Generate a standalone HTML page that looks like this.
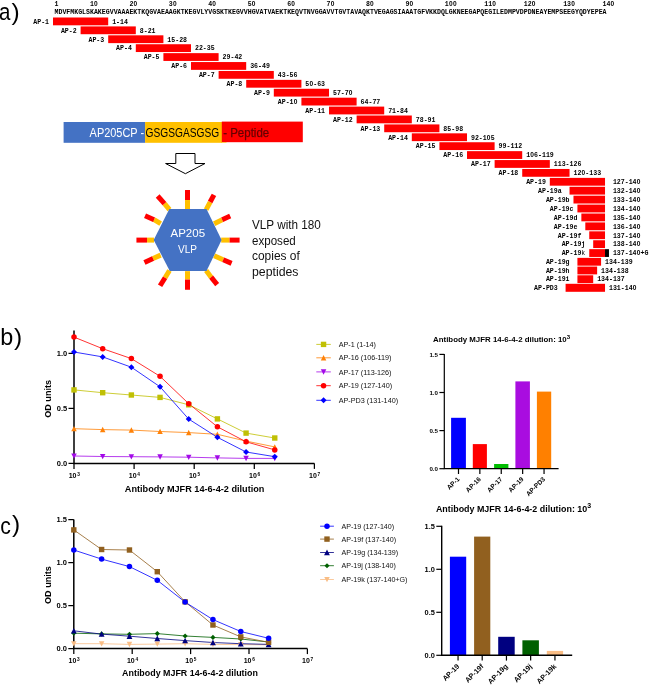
<!DOCTYPE html>
<html lang="en">
<head>
<meta charset="utf-8">
<title>AP205 VLP peptide mapping</title>
<style>
html,body{margin:0;padding:0;background:#fff;}
body{width:649px;height:685px;overflow:hidden;}
svg{display:block;}
text{white-space:pre;}
</style>
</head>
<body>
<svg width="649" height="685" viewBox="0 0 649 685">
<rect width="649" height="685" fill="#fff"/>
<g id="panel-a">
<text x="54.5" y="5.7" font-family='"Liberation Mono", monospace' font-size="6.57" font-weight="bold" fill="#000">1</text>
<text y="5.7" font-family='"Liberation Mono", monospace' font-size="6.57" font-weight="bold" fill="#000"><tspan x="89.99">1</tspan><tspan x="94.07" font-family='"Liberation Sans", sans-serif'>0</tspan></text>
<text y="5.7" font-family='"Liberation Mono", monospace' font-size="6.57" font-weight="bold" fill="#000"><tspan x="129.42">2</tspan><tspan x="133.5" font-family='"Liberation Sans", sans-serif'>0</tspan></text>
<text y="5.7" font-family='"Liberation Mono", monospace' font-size="6.57" font-weight="bold" fill="#000"><tspan x="168.85">3</tspan><tspan x="172.93" font-family='"Liberation Sans", sans-serif'>0</tspan></text>
<text y="5.7" font-family='"Liberation Mono", monospace' font-size="6.57" font-weight="bold" fill="#000"><tspan x="208.28">4</tspan><tspan x="212.36" font-family='"Liberation Sans", sans-serif'>0</tspan></text>
<text y="5.7" font-family='"Liberation Mono", monospace' font-size="6.57" font-weight="bold" fill="#000"><tspan x="247.71">5</tspan><tspan x="251.79" font-family='"Liberation Sans", sans-serif'>0</tspan></text>
<text y="5.7" font-family='"Liberation Mono", monospace' font-size="6.57" font-weight="bold" fill="#000"><tspan x="287.14">6</tspan><tspan x="291.22" font-family='"Liberation Sans", sans-serif'>0</tspan></text>
<text y="5.7" font-family='"Liberation Mono", monospace' font-size="6.57" font-weight="bold" fill="#000"><tspan x="326.57">7</tspan><tspan x="330.65" font-family='"Liberation Sans", sans-serif'>0</tspan></text>
<text y="5.7" font-family='"Liberation Mono", monospace' font-size="6.57" font-weight="bold" fill="#000"><tspan x="366">8</tspan><tspan x="370.08" font-family='"Liberation Sans", sans-serif'>0</tspan></text>
<text y="5.7" font-family='"Liberation Mono", monospace' font-size="6.57" font-weight="bold" fill="#000"><tspan x="405.43">9</tspan><tspan x="409.51" font-family='"Liberation Sans", sans-serif'>0</tspan></text>
<text y="5.7" font-family='"Liberation Mono", monospace' font-size="6.57" font-weight="bold" fill="#000"><tspan x="444.86">1</tspan><tspan x="448.94 452.89" font-family='"Liberation Sans", sans-serif'>00</tspan></text>
<text y="5.7" font-family='"Liberation Mono", monospace' font-size="6.57" font-weight="bold" fill="#000"><tspan x="484.29 488.23">11</tspan><tspan x="492.32" font-family='"Liberation Sans", sans-serif'>0</tspan></text>
<text y="5.7" font-family='"Liberation Mono", monospace' font-size="6.57" font-weight="bold" fill="#000"><tspan x="523.72 527.66">12</tspan><tspan x="531.75" font-family='"Liberation Sans", sans-serif'>0</tspan></text>
<text y="5.7" font-family='"Liberation Mono", monospace' font-size="6.57" font-weight="bold" fill="#000"><tspan x="563.15 567.09">13</tspan><tspan x="571.18" font-family='"Liberation Sans", sans-serif'>0</tspan></text>
<text y="5.7" font-family='"Liberation Mono", monospace' font-size="6.57" font-weight="bold" fill="#000"><tspan x="602.58 606.52">14</tspan><tspan x="610.61" font-family='"Liberation Sans", sans-serif'>0</tspan></text>
<text x="54.5 58.44 62.39 66.33 70.27 74.22 78.16 82.1 86.04 89.99 93.93 97.87 101.82 105.76 109.7 113.65 117.59 121.53 125.47 129.42 133.36 137.3 141.25 145.19 149.13 153.07 157.02 160.96 164.9 168.85 172.79 176.73 180.68 184.62 188.56 192.5 196.45 200.39 204.33 208.28 212.22 216.16 220.11 224.05 227.99 231.94 235.88 239.82 243.76 247.71 251.65 255.59 259.54 263.48 267.42 271.37 275.31 279.25 283.19 287.14 291.08 295.02 298.97 302.91 306.85 310.8 314.74 318.68 322.62 326.57 330.51 334.45 338.4 342.34 346.28 350.23 354.17 358.11 362.05 366 369.94 373.88 377.83 381.77 385.71 389.66 393.6 397.54 401.48 405.43 409.37 413.31 417.26 421.2 425.14 429.08 433.03 436.97 440.91 444.86 448.8 452.74 456.69 460.63 464.57 468.51 472.46 476.4 480.34 484.29 488.23 492.17 496.12 500.06 504 507.94 511.89 515.83 519.77 523.72 527.66 531.6 535.55 539.49 543.43 547.38 551.32 555.26 559.2 563.15 567.09 571.03 574.98 578.92 582.86 586.81 590.75 594.69 598.63 602.58" y="13.8" font-family='"Liberation Mono", monospace' font-size="6.57" font-weight="bold" fill="#000">MDVFMKGLSKAKEGVVAAAEKTKQGVAEAAGKTKEGVLYVGSKTKEGVVHGVATVAEKTKEQVTNVGGAVVTGVTAVAQKTVEGAGSIAAATGFVKKDQLGKNEEGAPQEGILEDMPVDPDNEAYEMPSEEGYQDYEPEA</text>
<rect x="53" y="17.5" width="55.2" height="7.8" fill="#ff0000"/>
<text x="33.28 37.23 41.17 45.11" y="23.7" font-family='"Liberation Mono", monospace' font-size="6.57" font-weight="bold" fill="#000">AP-1</text>
<text x="112.15 116.09 120.03 123.97" y="23.7" font-family='"Liberation Mono", monospace' font-size="6.57" font-weight="bold" fill="#000">1-14</text>
<rect x="80.6" y="26.41" width="55.2" height="7.8" fill="#ff0000"/>
<text x="60.89 64.83 68.77 72.72" y="32.61" font-family='"Liberation Mono", monospace' font-size="6.57" font-weight="bold" fill="#000">AP-2</text>
<text x="139.75 143.69 147.63 151.57" y="32.61" font-family='"Liberation Mono", monospace' font-size="6.57" font-weight="bold" fill="#000">8-21</text>
<rect x="108.2" y="35.32" width="55.2" height="7.8" fill="#ff0000"/>
<text x="88.49 92.43 96.37 100.32" y="41.52" font-family='"Liberation Mono", monospace' font-size="6.57" font-weight="bold" fill="#000">AP-3</text>
<text x="167.35 171.29 175.23 179.18 183.12" y="41.52" font-family='"Liberation Mono", monospace' font-size="6.57" font-weight="bold" fill="#000">15-28</text>
<rect x="135.8" y="44.23" width="55.2" height="7.8" fill="#ff0000"/>
<text x="116.09 120.03 123.97 127.92" y="50.43" font-family='"Liberation Mono", monospace' font-size="6.57" font-weight="bold" fill="#000">AP-4</text>
<text x="194.95 198.89 202.83 206.78 210.72" y="50.43" font-family='"Liberation Mono", monospace' font-size="6.57" font-weight="bold" fill="#000">22-35</text>
<rect x="163.4" y="53.14" width="55.2" height="7.8" fill="#ff0000"/>
<text x="143.69 147.63 151.58 155.52" y="59.34" font-family='"Liberation Mono", monospace' font-size="6.57" font-weight="bold" fill="#000">AP-5</text>
<text x="222.55 226.49 230.44 234.38 238.32" y="59.34" font-family='"Liberation Mono", monospace' font-size="6.57" font-weight="bold" fill="#000">29-42</text>
<rect x="191" y="62.05" width="55.2" height="7.8" fill="#ff0000"/>
<text x="171.29 175.23 179.18 183.12" y="68.25" font-family='"Liberation Mono", monospace' font-size="6.57" font-weight="bold" fill="#000">AP-6</text>
<text x="250.15 254.09 258.04 261.98 265.92" y="68.25" font-family='"Liberation Mono", monospace' font-size="6.57" font-weight="bold" fill="#000">36-49</text>
<rect x="218.61" y="70.96" width="55.2" height="7.8" fill="#ff0000"/>
<text x="198.89 202.83 206.78 210.72" y="77.16" font-family='"Liberation Mono", monospace' font-size="6.57" font-weight="bold" fill="#000">AP-7</text>
<text x="277.75 281.69 285.64 289.58 293.52" y="77.16" font-family='"Liberation Mono", monospace' font-size="6.57" font-weight="bold" fill="#000">43-56</text>
<rect x="246.21" y="79.87" width="55.2" height="7.8" fill="#ff0000"/>
<text x="226.49 230.44 234.38 238.32" y="86.07" font-family='"Liberation Mono", monospace' font-size="6.57" font-weight="bold" fill="#000">AP-8</text>
<text y="86.07" font-family='"Liberation Mono", monospace' font-size="6.57" font-weight="bold" fill="#000"><tspan x="305.35">5</tspan><tspan x="309.44" font-family='"Liberation Sans", sans-serif'>0</tspan><tspan x="313.24 317.18 321.12">-63</tspan></text>
<rect x="273.81" y="88.78" width="55.2" height="7.8" fill="#ff0000"/>
<text x="254.09 258.04 261.98 265.92" y="94.98" font-family='"Liberation Mono", monospace' font-size="6.57" font-weight="bold" fill="#000">AP-9</text>
<text y="94.98" font-family='"Liberation Mono", monospace' font-size="6.57" font-weight="bold" fill="#000"><tspan x="332.95 336.9 340.84 344.78">57-7</tspan><tspan x="348.87" font-family='"Liberation Sans", sans-serif'>0</tspan></text>
<rect x="301.41" y="97.69" width="55.2" height="7.8" fill="#ff0000"/>
<text y="103.89" font-family='"Liberation Mono", monospace' font-size="6.57" font-weight="bold" fill="#000"><tspan x="277.75 281.69 285.64 289.58">AP-1</tspan><tspan x="293.67" font-family='"Liberation Sans", sans-serif'>0</tspan></text>
<text x="360.55 364.5 368.44 372.38 376.33" y="103.89" font-family='"Liberation Mono", monospace' font-size="6.57" font-weight="bold" fill="#000">64-77</text>
<rect x="329.01" y="106.6" width="55.2" height="7.8" fill="#ff0000"/>
<text x="305.35 309.29 313.24 317.18 321.12" y="112.8" font-family='"Liberation Mono", monospace' font-size="6.57" font-weight="bold" fill="#000">AP-11</text>
<text x="388.16 392.1 396.04 399.98 403.93" y="112.8" font-family='"Liberation Mono", monospace' font-size="6.57" font-weight="bold" fill="#000">71-84</text>
<rect x="356.61" y="115.51" width="55.2" height="7.8" fill="#ff0000"/>
<text x="332.95 336.9 340.84 344.78 348.73" y="121.71" font-family='"Liberation Mono", monospace' font-size="6.57" font-weight="bold" fill="#000">AP-12</text>
<text x="415.76 419.7 423.64 427.59 431.53" y="121.71" font-family='"Liberation Mono", monospace' font-size="6.57" font-weight="bold" fill="#000">78-91</text>
<rect x="384.21" y="124.42" width="55.2" height="7.8" fill="#ff0000"/>
<text x="360.55 364.5 368.44 372.38 376.33" y="130.62" font-family='"Liberation Mono", monospace' font-size="6.57" font-weight="bold" fill="#000">AP-13</text>
<text x="443.36 447.3 451.24 455.19 459.13" y="130.62" font-family='"Liberation Mono", monospace' font-size="6.57" font-weight="bold" fill="#000">85-98</text>
<rect x="411.81" y="133.33" width="55.2" height="7.8" fill="#ff0000"/>
<text x="388.16 392.1 396.04 399.98 403.93" y="139.53" font-family='"Liberation Mono", monospace' font-size="6.57" font-weight="bold" fill="#000">AP-14</text>
<text y="139.53" font-family='"Liberation Mono", monospace' font-size="6.57" font-weight="bold" fill="#000"><tspan x="470.96 474.9 478.84 482.79">92-1</tspan><tspan x="486.87" font-family='"Liberation Sans", sans-serif'>0</tspan><tspan x="490.67">5</tspan></text>
<rect x="439.41" y="142.24" width="55.2" height="7.8" fill="#ff0000"/>
<text x="415.76 419.7 423.64 427.59 431.53" y="148.44" font-family='"Liberation Mono", monospace' font-size="6.57" font-weight="bold" fill="#000">AP-15</text>
<text x="498.56 502.5 506.45 510.39 514.33 518.27" y="148.44" font-family='"Liberation Mono", monospace' font-size="6.57" font-weight="bold" fill="#000">99-112</text>
<rect x="467.01" y="151.15" width="55.2" height="7.8" fill="#ff0000"/>
<text x="443.36 447.3 451.24 455.19 459.13" y="157.35" font-family='"Liberation Mono", monospace' font-size="6.57" font-weight="bold" fill="#000">AP-16</text>
<text y="157.35" font-family='"Liberation Mono", monospace' font-size="6.57" font-weight="bold" fill="#000"><tspan x="526.16">1</tspan><tspan x="530.25" font-family='"Liberation Sans", sans-serif'>0</tspan><tspan x="534.05 537.99 541.93 545.88 549.82">6-119</tspan></text>
<rect x="494.62" y="160.06" width="55.2" height="7.8" fill="#ff0000"/>
<text x="470.96 474.9 478.84 482.79 486.73" y="166.26" font-family='"Liberation Mono", monospace' font-size="6.57" font-weight="bold" fill="#000">AP-17</text>
<text x="553.76 557.7 561.65 565.59 569.53 573.48 577.42" y="166.26" font-family='"Liberation Mono", monospace' font-size="6.57" font-weight="bold" fill="#000">113-126</text>
<rect x="522.22" y="168.97" width="47.32" height="7.8" fill="#ff0000"/>
<text x="498.56 502.5 506.45 510.39 514.33" y="175.17" font-family='"Liberation Mono", monospace' font-size="6.57" font-weight="bold" fill="#000">AP-18</text>
<text y="175.17" font-family='"Liberation Mono", monospace' font-size="6.57" font-weight="bold" fill="#000"><tspan x="573.48 577.42">12</tspan><tspan x="581.51" font-family='"Liberation Sans", sans-serif'>0</tspan><tspan x="585.3 589.25 593.19 597.13">-133</tspan></text>
<rect x="549.82" y="177.88" width="55.2" height="7.8" fill="#ff0000"/>
<text x="526.16 530.1 534.05 537.99 541.93" y="184.08" font-family='"Liberation Mono", monospace' font-size="6.57" font-weight="bold" fill="#000">AP-19</text>
<text y="184.08" font-family='"Liberation Mono", monospace' font-size="6.57" font-weight="bold" fill="#000"><tspan x="612.91 616.85 620.79 624.74 628.68 632.62">127-14</tspan><tspan x="636.71" font-family='"Liberation Sans", sans-serif'>0</tspan></text>
<rect x="569.53" y="186.79" width="35.49" height="7.8" fill="#ff0000"/>
<text x="537.99 541.93 545.88 549.82 553.76 557.7" y="192.99" font-family='"Liberation Mono", monospace' font-size="6.57" font-weight="bold" fill="#000">AP-19a</text>
<text y="192.99" font-family='"Liberation Mono", monospace' font-size="6.57" font-weight="bold" fill="#000"><tspan x="612.91 616.85 620.79 624.74 628.68 632.62">132-14</tspan><tspan x="636.71" font-family='"Liberation Sans", sans-serif'>0</tspan></text>
<rect x="573.48" y="195.7" width="31.54" height="7.8" fill="#ff0000"/>
<text x="545.88 549.82 553.76 557.7 561.65 565.59" y="201.9" font-family='"Liberation Mono", monospace' font-size="6.57" font-weight="bold" fill="#000">AP-19b</text>
<text y="201.9" font-family='"Liberation Mono", monospace' font-size="6.57" font-weight="bold" fill="#000"><tspan x="612.91 616.85 620.79 624.74 628.68 632.62">133-14</tspan><tspan x="636.71" font-family='"Liberation Sans", sans-serif'>0</tspan></text>
<rect x="577.42" y="204.61" width="27.6" height="7.8" fill="#ff0000"/>
<text x="549.82 553.76 557.7 561.65 565.59 569.53" y="210.81" font-family='"Liberation Mono", monospace' font-size="6.57" font-weight="bold" fill="#000">AP-19c</text>
<text y="210.81" font-family='"Liberation Mono", monospace' font-size="6.57" font-weight="bold" fill="#000"><tspan x="612.91 616.85 620.79 624.74 628.68 632.62">134-14</tspan><tspan x="636.71" font-family='"Liberation Sans", sans-serif'>0</tspan></text>
<rect x="581.36" y="213.52" width="23.66" height="7.8" fill="#ff0000"/>
<text x="553.76 557.7 561.65 565.59 569.53 573.48" y="219.72" font-family='"Liberation Mono", monospace' font-size="6.57" font-weight="bold" fill="#000">AP-19d</text>
<text y="219.72" font-family='"Liberation Mono", monospace' font-size="6.57" font-weight="bold" fill="#000"><tspan x="612.91 616.85 620.79 624.74 628.68 632.62">135-14</tspan><tspan x="636.71" font-family='"Liberation Sans", sans-serif'>0</tspan></text>
<rect x="585.31" y="222.43" width="19.71" height="7.8" fill="#ff0000"/>
<text x="553.76 557.7 561.65 565.59 569.53 573.48" y="228.63" font-family='"Liberation Mono", monospace' font-size="6.57" font-weight="bold" fill="#000">AP-19e</text>
<text y="228.63" font-family='"Liberation Mono", monospace' font-size="6.57" font-weight="bold" fill="#000"><tspan x="612.91 616.85 620.79 624.74 628.68 632.62">136-14</tspan><tspan x="636.71" font-family='"Liberation Sans", sans-serif'>0</tspan></text>
<rect x="589.25" y="231.34" width="15.77" height="7.8" fill="#ff0000"/>
<text x="557.7 561.65 565.59 569.53 573.48 577.42" y="237.54" font-family='"Liberation Mono", monospace' font-size="6.57" font-weight="bold" fill="#000">AP-19f</text>
<text y="237.54" font-family='"Liberation Mono", monospace' font-size="6.57" font-weight="bold" fill="#000"><tspan x="612.91 616.85 620.79 624.74 628.68 632.62">137-14</tspan><tspan x="636.71" font-family='"Liberation Sans", sans-serif'>0</tspan></text>
<rect x="593.19" y="240.25" width="11.83" height="7.8" fill="#ff0000"/>
<text x="561.65 565.59 569.53 573.48 577.42 581.36" y="246.45" font-family='"Liberation Mono", monospace' font-size="6.57" font-weight="bold" fill="#000">AP-19j</text>
<text y="246.45" font-family='"Liberation Mono", monospace' font-size="6.57" font-weight="bold" fill="#000"><tspan x="612.91 616.85 620.79 624.74 628.68 632.62">138-14</tspan><tspan x="636.71" font-family='"Liberation Sans", sans-serif'>0</tspan></text>
<rect x="589.25" y="249.16" width="15.77" height="7.8" fill="#ff0000"/>
<rect x="605.02" y="249.16" width="3.94" height="7.8" fill="#000"/>
<text y="255.36" font-family='"Liberation Mono", monospace' font-size="6.57" font-weight="bold" fill="#000"><tspan x="561.65 565.59 569.53 573.48 577.42">AP-19</tspan><tspan x="581.36" font-weight="normal">k</tspan></text>
<text y="255.36" font-family='"Liberation Mono", monospace' font-size="6.57" font-weight="bold" fill="#000"><tspan x="612.91 616.85 620.79 624.74 628.68 632.62">137-14</tspan><tspan x="636.71" font-family='"Liberation Sans", sans-serif'>0</tspan><tspan x="640.51 644.45">+G</tspan></text>
<rect x="577.42" y="257.87" width="23.66" height="7.8" fill="#ff0000"/>
<text x="545.88 549.82 553.76 557.7 561.65 565.59" y="264.07" font-family='"Liberation Mono", monospace' font-size="6.57" font-weight="bold" fill="#000">AP-19g</text>
<text x="605.02 608.96 612.91 616.85 620.79 624.74 628.68" y="264.07" font-family='"Liberation Mono", monospace' font-size="6.57" font-weight="bold" fill="#000">134-139</text>
<rect x="577.42" y="266.58" width="19.71" height="7.8" fill="#ff0000"/>
<text x="545.88 549.82 553.76 557.7 561.65 565.59" y="272.78" font-family='"Liberation Mono", monospace' font-size="6.57" font-weight="bold" fill="#000">AP-19h</text>
<text x="601.08 605.02 608.96 612.91 616.85 620.79 624.74" y="272.78" font-family='"Liberation Mono", monospace' font-size="6.57" font-weight="bold" fill="#000">134-138</text>
<rect x="577.42" y="275.29" width="15.77" height="7.8" fill="#ff0000"/>
<text x="545.88 549.82 553.76 557.7 561.65 565.59" y="281.49" font-family='"Liberation Mono", monospace' font-size="6.57" font-weight="bold" fill="#000">AP-19i</text>
<text x="597.13 601.08 605.02 608.96 612.91 616.85 620.79" y="281.49" font-family='"Liberation Mono", monospace' font-size="6.57" font-weight="bold" fill="#000">134-137</text>
<rect x="565.59" y="283.8" width="39.43" height="8" fill="#ff0000"/>
<text x="534.05 537.99 541.93 545.88 549.82 553.76" y="290" font-family='"Liberation Mono", monospace' font-size="6.57" font-weight="bold" fill="#000">AP-PD3</text>
<text y="290" font-family='"Liberation Mono", monospace' font-size="6.57" font-weight="bold" fill="#000"><tspan x="608.96 612.91 616.85 620.79 624.74 628.68">131-14</tspan><tspan x="632.77" font-family='"Liberation Sans", sans-serif'>0</tspan></text>
</g>
<g id="construct">
<rect x="63.6" y="122" width="81.6" height="20.8" fill="#4472c4"/>
<rect x="145.1" y="122" width="77" height="20.8" fill="#ffc000"/>
<rect x="221.8" y="121.6" width="81" height="20.6" fill="#ff0000"/>
<rect x="221" y="142.2" width="5.5" height="0.6" fill="#ffc000"/>
<text x="89.6" y="136.7" font-family='"Liberation Sans", sans-serif' font-size="12" fill="#fff" textLength="54.5" lengthAdjust="spacingAndGlyphs">AP205CP -</text>
<text x="145.6" y="136.7" font-family='"Liberation Sans", sans-serif' font-size="12" fill="#000" textLength="73.5" lengthAdjust="spacingAndGlyphs">GSGSGASGSG</text>
<text x="223.2" y="136.7" font-family='"Liberation Sans", sans-serif' font-size="12" fill="#650000" stroke="#650000" stroke-width="0.25" textLength="46" lengthAdjust="spacingAndGlyphs">- Peptide</text>
<path d="M175.8 153.5 H195 V163.5 H205 L185.4 173.7 L165.6 163.5 H175.8 Z" fill="#fff" stroke="#000" stroke-width="1"/>
<line x1="187.51" y1="209.05" x2="187.51" y2="200.03" stroke="#ffc000" stroke-width="5"/>
<line x1="187.51" y1="200.03" x2="187.51" y2="190.02" stroke="#ff0000" stroke-width="5"/>
<line x1="206.14" y1="209.65" x2="210.14" y2="202.04" stroke="#ffc000" stroke-width="5"/>
<line x1="210.14" y1="202.04" x2="213.95" y2="194.82" stroke="#ff0000" stroke-width="5"/>
<line x1="214.15" y1="223.67" x2="222.16" y2="219.66" stroke="#ffc000" stroke-width="5"/>
<line x1="222.16" y1="219.66" x2="230.18" y2="216.06" stroke="#ff0000" stroke-width="5"/>
<line x1="221.16" y1="240.1" x2="229.58" y2="240.1" stroke="#ffc000" stroke-width="5"/>
<line x1="229.58" y1="240.1" x2="239.59" y2="240.1" stroke="#ff0000" stroke-width="5"/>
<line x1="214.15" y1="255.72" x2="223.17" y2="259.73" stroke="#ffc000" stroke-width="5"/>
<line x1="223.17" y1="259.73" x2="231.58" y2="263.33" stroke="#ff0000" stroke-width="5"/>
<line x1="206.14" y1="270.54" x2="211.15" y2="277.16" stroke="#ffc000" stroke-width="5"/>
<line x1="211.15" y1="277.16" x2="217.16" y2="284.57" stroke="#ff0000" stroke-width="5"/>
<line x1="187.51" y1="271.15" x2="187.51" y2="279.56" stroke="#ffc000" stroke-width="5"/>
<line x1="187.51" y1="279.56" x2="187.51" y2="289.78" stroke="#ff0000" stroke-width="5"/>
<line x1="169.48" y1="270.54" x2="165.07" y2="277.76" stroke="#ffc000" stroke-width="5"/>
<line x1="165.07" y1="277.76" x2="160.06" y2="285.77" stroke="#ff0000" stroke-width="5"/>
<line x1="160.67" y1="255.12" x2="153.05" y2="258.53" stroke="#ffc000" stroke-width="5"/>
<line x1="153.05" y1="258.53" x2="144.44" y2="262.53" stroke="#ff0000" stroke-width="5"/>
<line x1="154.05" y1="240.1" x2="147.04" y2="240.1" stroke="#ffc000" stroke-width="5"/>
<line x1="147.04" y1="240.1" x2="136.43" y2="240.1" stroke="#ff0000" stroke-width="5"/>
<line x1="160.67" y1="223.67" x2="154.05" y2="219.66" stroke="#ffc000" stroke-width="5"/>
<line x1="154.05" y1="219.66" x2="145.04" y2="215.66" stroke="#ff0000" stroke-width="5"/>
<line x1="169.48" y1="209.65" x2="164.47" y2="203.64" stroke="#ffc000" stroke-width="5"/>
<line x1="164.47" y1="203.64" x2="157.66" y2="196.03" stroke="#ff0000" stroke-width="5"/>
<polygon points="153.7,239.9 169.3,209 206.5,209 221.6,239.9 206.5,271.1 169.8,271.1" fill="#4472c4"/>
<text x="187.8" y="236.8" text-anchor="middle" font-family='"Liberation Sans", sans-serif' font-size="10.7" fill="#fff" textLength="34.6" lengthAdjust="spacingAndGlyphs">AP205</text>
<text x="187.5" y="252.6" text-anchor="middle" font-family='"Liberation Sans", sans-serif' font-size="10.7" fill="#fff" textLength="19" lengthAdjust="spacingAndGlyphs">VLP</text>
<text x="252" y="228.9" font-family='"Liberation Sans", sans-serif' font-size="12" fill="#111" textLength="68.9" lengthAdjust="spacingAndGlyphs">VLP with 180</text>
<text x="252" y="244.65" font-family='"Liberation Sans", sans-serif' font-size="12" fill="#111" textLength="43.8" lengthAdjust="spacingAndGlyphs">exposed</text>
<text x="252" y="260.4" font-family='"Liberation Sans", sans-serif' font-size="12" fill="#111" textLength="47.8" lengthAdjust="spacingAndGlyphs">copies of</text>
<text x="252" y="276.15" font-family='"Liberation Sans", sans-serif' font-size="12" fill="#111" textLength="46.5" lengthAdjust="spacingAndGlyphs">peptides</text>
</g>
<text y="20.1" font-family='"Liberation Sans", sans-serif' font-size="24.5" fill="#000"><tspan x="-0.9" textLength="11.4" lengthAdjust="spacingAndGlyphs">a</tspan><tspan x="11.6" dy="-0.3">)</tspan></text>
<text y="345.1" font-family='"Liberation Sans", sans-serif' font-size="24.5" fill="#000"><tspan x="0.3" textLength="13" lengthAdjust="spacingAndGlyphs">b</tspan><tspan x="14.1" dy="-0.3">)</tspan></text>
<text y="533.5" font-family='"Liberation Sans", sans-serif' font-size="24.5" fill="#000"><tspan x="0.2" textLength="10.6" lengthAdjust="spacingAndGlyphs">c</tspan><tspan x="12" dy="-1.2">)</tspan></text>
<g>
<path d="M74 330.5 V463.4 H314.4" fill="none" stroke="#000" stroke-width="1.5"/>
<line x1="68.5" y1="463.4" x2="74" y2="463.4" stroke="#000" stroke-width="1.25"/>
<text x="67.2" y="465.95" text-anchor="end" font-family='"Liberation Sans", sans-serif' font-size="7.5" font-weight="bold">0.0</text>
<line x1="68.5" y1="408.4" x2="74" y2="408.4" stroke="#000" stroke-width="1.25"/>
<text x="67.2" y="410.95" text-anchor="end" font-family='"Liberation Sans", sans-serif' font-size="7.5" font-weight="bold">0.5</text>
<line x1="68.5" y1="353.4" x2="74" y2="353.4" stroke="#000" stroke-width="1.25"/>
<text x="67.2" y="355.95" text-anchor="end" font-family='"Liberation Sans", sans-serif' font-size="7.5" font-weight="bold">1.0</text>
<line x1="74" y1="463.4" x2="74" y2="468.9" stroke="#000" stroke-width="1.25"/>
<text x="74.3" y="478" text-anchor="middle" font-family='"Liberation Sans", sans-serif' font-size="7" font-weight="bold" fill="#000">10<tspan dx="0.7" dy="-2.17" font-size="4.76">3</tspan></text>
<line x1="134.1" y1="463.4" x2="134.1" y2="468.9" stroke="#000" stroke-width="1.25"/>
<text x="134.4" y="478" text-anchor="middle" font-family='"Liberation Sans", sans-serif' font-size="7" font-weight="bold" fill="#000">10<tspan dx="0.7" dy="-2.17" font-size="4.76">4</tspan></text>
<line x1="194.2" y1="463.4" x2="194.2" y2="468.9" stroke="#000" stroke-width="1.25"/>
<text x="194.5" y="478" text-anchor="middle" font-family='"Liberation Sans", sans-serif' font-size="7" font-weight="bold" fill="#000">10<tspan dx="0.7" dy="-2.17" font-size="4.76">5</tspan></text>
<line x1="254.3" y1="463.4" x2="254.3" y2="468.9" stroke="#000" stroke-width="1.25"/>
<text x="254.6" y="478" text-anchor="middle" font-family='"Liberation Sans", sans-serif' font-size="7" font-weight="bold" fill="#000">10<tspan dx="0.7" dy="-2.17" font-size="4.76">6</tspan></text>
<line x1="314.4" y1="463.4" x2="314.4" y2="468.9" stroke="#000" stroke-width="1.25"/>
<text x="314.7" y="478" text-anchor="middle" font-family='"Liberation Sans", sans-serif' font-size="7" font-weight="bold" fill="#000">10<tspan dx="0.7" dy="-2.17" font-size="4.76">7</tspan></text>
<polyline points="74,389.9 102.68,392.7 131.36,395 160.04,397.4 188.72,404.8 217.4,418.9 246.08,433.1 274.76,438" fill="none" stroke="#c0c004" stroke-width="0.8"/>
<polyline points="74,428.7 102.68,429.6 131.36,430.1 160.04,431.5 188.72,432.6 217.4,434.3 246.08,441.1 274.76,446.9" fill="none" stroke="#ff8208" stroke-width="0.8"/>
<polyline points="74,456 102.68,456.5 131.36,456.7 160.04,456.9 188.72,457.2 217.4,457.9 246.08,458.4 274.76,458.4" fill="none" stroke="#a30ae8" stroke-width="0.8"/>
<polyline points="74,337.1 102.68,348.7 131.36,358.6 160.04,376.3 188.72,403.7 217.4,426.8 246.08,441.8 274.76,449.9" fill="none" stroke="#ff0000" stroke-width="0.8"/>
<polyline points="74,352 102.68,356.9 131.36,367.2 160.04,386.8 188.72,419.1 217.4,437.3 246.08,452 274.76,456.7" fill="none" stroke="#0000ff" stroke-width="0.8"/>
<rect x="71.3" y="387.2" width="5.4" height="5.4" fill="#c0c004"/>
<rect x="99.98" y="390" width="5.4" height="5.4" fill="#c0c004"/>
<rect x="128.66" y="392.3" width="5.4" height="5.4" fill="#c0c004"/>
<rect x="157.34" y="394.7" width="5.4" height="5.4" fill="#c0c004"/>
<rect x="186.02" y="402.1" width="5.4" height="5.4" fill="#c0c004"/>
<rect x="214.7" y="416.2" width="5.4" height="5.4" fill="#c0c004"/>
<rect x="243.38" y="430.4" width="5.4" height="5.4" fill="#c0c004"/>
<rect x="272.06" y="435.3" width="5.4" height="5.4" fill="#c0c004"/>
<polygon points="74,425.95 76.75,431.31 71.25,431.31" fill="#ff8208"/>
<polygon points="102.68,426.85 105.43,432.21 99.93,432.21" fill="#ff8208"/>
<polygon points="131.36,427.35 134.11,432.71 128.61,432.71" fill="#ff8208"/>
<polygon points="160.04,428.75 162.79,434.11 157.29,434.11" fill="#ff8208"/>
<polygon points="188.72,429.85 191.47,435.21 185.97,435.21" fill="#ff8208"/>
<polygon points="217.4,431.55 220.15,436.91 214.65,436.91" fill="#ff8208"/>
<polygon points="246.08,438.35 248.83,443.71 243.33,443.71" fill="#ff8208"/>
<polygon points="274.76,444.15 277.51,449.51 272.01,449.51" fill="#ff8208"/>
<polygon points="74,458.75 76.75,453.47 71.25,453.47" fill="#a30ae8"/>
<polygon points="102.68,459.25 105.43,453.97 99.93,453.97" fill="#a30ae8"/>
<polygon points="131.36,459.45 134.11,454.17 128.61,454.17" fill="#a30ae8"/>
<polygon points="160.04,459.65 162.79,454.37 157.29,454.37" fill="#a30ae8"/>
<polygon points="188.72,459.95 191.47,454.67 185.97,454.67" fill="#a30ae8"/>
<polygon points="217.4,460.65 220.15,455.37 214.65,455.37" fill="#a30ae8"/>
<polygon points="246.08,461.15 248.83,455.87 243.33,455.87" fill="#a30ae8"/>
<polygon points="274.76,461.15 277.51,455.87 272.01,455.87" fill="#a30ae8"/>
<circle cx="74" cy="337.1" r="2.75" fill="#ff0000"/>
<circle cx="102.68" cy="348.7" r="2.75" fill="#ff0000"/>
<circle cx="131.36" cy="358.6" r="2.75" fill="#ff0000"/>
<circle cx="160.04" cy="376.3" r="2.75" fill="#ff0000"/>
<circle cx="188.72" cy="403.7" r="2.75" fill="#ff0000"/>
<circle cx="217.4" cy="426.8" r="2.75" fill="#ff0000"/>
<circle cx="246.08" cy="441.8" r="2.75" fill="#ff0000"/>
<circle cx="274.76" cy="449.9" r="2.75" fill="#ff0000"/>
<polygon points="74,349 77,352 74,355 71,352" fill="#0000ff"/>
<polygon points="102.68,353.9 105.68,356.9 102.68,359.9 99.68,356.9" fill="#0000ff"/>
<polygon points="131.36,364.2 134.36,367.2 131.36,370.2 128.36,367.2" fill="#0000ff"/>
<polygon points="160.04,383.8 163.04,386.8 160.04,389.8 157.04,386.8" fill="#0000ff"/>
<polygon points="188.72,416.1 191.72,419.1 188.72,422.1 185.72,419.1" fill="#0000ff"/>
<polygon points="217.4,434.3 220.4,437.3 217.4,440.3 214.4,437.3" fill="#0000ff"/>
<polygon points="246.08,449 249.08,452 246.08,455 243.08,452" fill="#0000ff"/>
<polygon points="274.76,453.7 277.76,456.7 274.76,459.7 271.76,456.7" fill="#0000ff"/>
<text transform="translate(51,398.9) rotate(-90)" text-anchor="middle" font-family='"Liberation Sans", sans-serif' font-size="9.1" font-weight="bold">OD units</text>
<text x="194.6" y="491.6" text-anchor="middle" font-family='"Liberation Sans", sans-serif' font-size="9.1" font-weight="bold" textLength="139.6" lengthAdjust="spacingAndGlyphs">Antibody MJFR 14-6-4-2 dilution</text>
<line x1="316.3" y1="344.4" x2="330.8" y2="344.4" stroke="#c0c004" stroke-width="0.8"/>
<rect x="320.85" y="341.7" width="5.4" height="5.4" fill="#c0c004"/>
<text x="338.7" y="347" font-family='"Liberation Sans", sans-serif' font-size="7.23" fill="#111">AP-1 (1-14)</text>
<line x1="316.3" y1="357.8" x2="330.8" y2="357.8" stroke="#ff8208" stroke-width="0.8"/>
<polygon points="323.55,355.05 326.3,360.41 320.8,360.41" fill="#ff8208"/>
<text x="338.7" y="360.4" font-family='"Liberation Sans", sans-serif' font-size="7.23" fill="#111">AP-16 (106-119)</text>
<line x1="316.3" y1="371.9" x2="330.8" y2="371.9" stroke="#a30ae8" stroke-width="0.8"/>
<polygon points="323.55,374.65 326.3,369.37 320.8,369.37" fill="#a30ae8"/>
<text x="338.7" y="374.5" font-family='"Liberation Sans", sans-serif' font-size="7.23" fill="#111">AP-17 (113-126)</text>
<line x1="316.3" y1="385.7" x2="330.8" y2="385.7" stroke="#ff0000" stroke-width="0.8"/>
<circle cx="323.55" cy="385.7" r="2.75" fill="#ff0000"/>
<text x="338.7" y="388.3" font-family='"Liberation Sans", sans-serif' font-size="7.23" fill="#111">AP-19 (127-140)</text>
<line x1="316.3" y1="400.3" x2="330.8" y2="400.3" stroke="#0000ff" stroke-width="0.8"/>
<polygon points="323.55,397.3 326.55,400.3 323.55,403.3 320.55,400.3" fill="#0000ff"/>
<text x="338.7" y="402.9" font-family='"Liberation Sans", sans-serif' font-size="7.23" fill="#111">AP-PD3 (131-140)</text>
</g>
<g>
<rect x="451.1" y="417.8" width="14.8" height="50.9" fill="#0000ff"/>
<rect x="472.8" y="444.1" width="14.1" height="24.6" fill="#ff0000"/>
<rect x="494.1" y="464" width="14.3" height="4.7" fill="#00bc00"/>
<rect x="515.4" y="381.4" width="14.5" height="87.3" fill="#a90de0"/>
<rect x="536.9" y="391.6" width="14.3" height="77.1" fill="#ff8000"/>
<path d="M444.3 353.9 V468.7 H558.6" fill="none" stroke="#000" stroke-width="1.2"/>
<line x1="439.4" y1="468.7" x2="444.3" y2="468.7" stroke="#000" stroke-width="1.2"/>
<text x="438" y="470.87" text-anchor="end" font-family='"Liberation Sans", sans-serif' font-size="6.2" font-weight="bold">0.0</text>
<line x1="439.4" y1="430.6" x2="444.3" y2="430.6" stroke="#000" stroke-width="1.2"/>
<text x="438" y="432.77" text-anchor="end" font-family='"Liberation Sans", sans-serif' font-size="6.2" font-weight="bold">0.5</text>
<line x1="439.4" y1="392.5" x2="444.3" y2="392.5" stroke="#000" stroke-width="1.2"/>
<text x="438" y="394.67" text-anchor="end" font-family='"Liberation Sans", sans-serif' font-size="6.2" font-weight="bold">1.0</text>
<line x1="439.4" y1="354.4" x2="444.3" y2="354.4" stroke="#000" stroke-width="1.2"/>
<text x="438" y="356.57" text-anchor="end" font-family='"Liberation Sans", sans-serif' font-size="6.2" font-weight="bold">1.5</text>
<line x1="458.5" y1="468.7" x2="458.5" y2="474" stroke="#000" stroke-width="1.2"/>
<text transform="translate(460,479.6) rotate(-45)" text-anchor="end" font-family='"Liberation Sans", sans-serif' font-size="6.5" font-weight="bold">AP-1</text>
<line x1="479.85" y1="468.7" x2="479.85" y2="474" stroke="#000" stroke-width="1.2"/>
<text transform="translate(481.35,479.6) rotate(-45)" text-anchor="end" font-family='"Liberation Sans", sans-serif' font-size="6.5" font-weight="bold">AP-16</text>
<line x1="501.25" y1="468.7" x2="501.25" y2="474" stroke="#000" stroke-width="1.2"/>
<text transform="translate(502.75,479.6) rotate(-45)" text-anchor="end" font-family='"Liberation Sans", sans-serif' font-size="6.5" font-weight="bold">AP-17</text>
<line x1="522.65" y1="468.7" x2="522.65" y2="474" stroke="#000" stroke-width="1.2"/>
<text transform="translate(524.15,479.6) rotate(-45)" text-anchor="end" font-family='"Liberation Sans", sans-serif' font-size="6.5" font-weight="bold">AP-19</text>
<line x1="544.05" y1="468.7" x2="544.05" y2="474" stroke="#000" stroke-width="1.2"/>
<text transform="translate(545.55,479.6) rotate(-45)" text-anchor="end" font-family='"Liberation Sans", sans-serif' font-size="6.5" font-weight="bold">AP-PD3</text>
<text x="433.1" y="342.2" font-family='"Liberation Sans", sans-serif' font-size="7.8" font-weight="bold" textLength="137" lengthAdjust="spacingAndGlyphs">Antibody MJFR 14-6-4-2 dilution: 10<tspan dy="-3.28" font-size="6.08">3</tspan></text>
</g>
<g>
<path d="M73.8 519.6 V648.6 H307.4" fill="none" stroke="#000" stroke-width="1.5"/>
<line x1="68.3" y1="648.6" x2="73.8" y2="648.6" stroke="#000" stroke-width="1.25"/>
<text x="67" y="651.15" text-anchor="end" font-family='"Liberation Sans", sans-serif' font-size="7.5" font-weight="bold">0.0</text>
<line x1="68.3" y1="605.6" x2="73.8" y2="605.6" stroke="#000" stroke-width="1.25"/>
<text x="67" y="608.15" text-anchor="end" font-family='"Liberation Sans", sans-serif' font-size="7.5" font-weight="bold">0.5</text>
<line x1="68.3" y1="562.6" x2="73.8" y2="562.6" stroke="#000" stroke-width="1.25"/>
<text x="67" y="565.15" text-anchor="end" font-family='"Liberation Sans", sans-serif' font-size="7.5" font-weight="bold">1.0</text>
<line x1="68.3" y1="519.6" x2="73.8" y2="519.6" stroke="#000" stroke-width="1.25"/>
<text x="67" y="522.15" text-anchor="end" font-family='"Liberation Sans", sans-serif' font-size="7.5" font-weight="bold">1.5</text>
<line x1="73.8" y1="648.6" x2="73.8" y2="654.1" stroke="#000" stroke-width="1.25"/>
<text x="74.1" y="663.2" text-anchor="middle" font-family='"Liberation Sans", sans-serif' font-size="7" font-weight="bold" fill="#000">10<tspan dx="0.7" dy="-2.17" font-size="4.76">3</tspan></text>
<line x1="132.2" y1="648.6" x2="132.2" y2="654.1" stroke="#000" stroke-width="1.25"/>
<text x="132.5" y="663.2" text-anchor="middle" font-family='"Liberation Sans", sans-serif' font-size="7" font-weight="bold" fill="#000">10<tspan dx="0.7" dy="-2.17" font-size="4.76">4</tspan></text>
<line x1="190.6" y1="648.6" x2="190.6" y2="654.1" stroke="#000" stroke-width="1.25"/>
<text x="190.9" y="663.2" text-anchor="middle" font-family='"Liberation Sans", sans-serif' font-size="7" font-weight="bold" fill="#000">10<tspan dx="0.7" dy="-2.17" font-size="4.76">5</tspan></text>
<line x1="249" y1="648.6" x2="249" y2="654.1" stroke="#000" stroke-width="1.25"/>
<text x="249.3" y="663.2" text-anchor="middle" font-family='"Liberation Sans", sans-serif' font-size="7" font-weight="bold" fill="#000">10<tspan dx="0.7" dy="-2.17" font-size="4.76">6</tspan></text>
<line x1="307.4" y1="648.6" x2="307.4" y2="654.1" stroke="#000" stroke-width="1.25"/>
<text x="307.7" y="663.2" text-anchor="middle" font-family='"Liberation Sans", sans-serif' font-size="7" font-weight="bold" fill="#000">10<tspan dx="0.7" dy="-2.17" font-size="4.76">7</tspan></text>
<polyline points="73.8,643.7 101.63,643.7 129.46,644.4 157.29,644.1 185.12,643.7 212.95,644.4 240.78,644.6 268.61,644.8" fill="none" stroke="#f9bd85" stroke-width="0.8"/>
<polyline points="73.8,633.2 101.63,633.9 129.46,634.3 157.29,633.6 185.12,636 212.95,637.4 240.78,639 268.61,642" fill="none" stroke="#006000" stroke-width="0.8"/>
<polyline points="73.8,630.8 101.63,634.1 129.46,636.2 157.29,638.5 185.12,640.6 212.95,642.5 240.78,643.7 268.61,644.4" fill="none" stroke="#000080" stroke-width="0.8"/>
<polyline points="73.8,529.9 101.63,549.5 129.46,550 157.29,571.7 185.12,601.8 212.95,625 240.78,636.9 268.61,642.3" fill="none" stroke="#91601f" stroke-width="0.8"/>
<polyline points="73.8,550 101.63,559.1 129.46,566.6 157.29,580.3 185.12,602.1 212.95,619.6 240.78,631.5 268.61,638.3" fill="none" stroke="#0000ff" stroke-width="0.8"/>
<polygon points="73.8,646.45 76.55,641.17 71.05,641.17" fill="#f9bd85"/>
<polygon points="101.63,646.45 104.38,641.17 98.88,641.17" fill="#f9bd85"/>
<polygon points="129.46,647.15 132.21,641.87 126.71,641.87" fill="#f9bd85"/>
<polygon points="157.29,646.85 160.04,641.57 154.54,641.57" fill="#f9bd85"/>
<polygon points="185.12,646.45 187.87,641.17 182.37,641.17" fill="#f9bd85"/>
<polygon points="212.95,647.15 215.7,641.87 210.2,641.87" fill="#f9bd85"/>
<polygon points="240.78,647.35 243.53,642.07 238.03,642.07" fill="#f9bd85"/>
<polygon points="268.61,647.55 271.36,642.27 265.86,642.27" fill="#f9bd85"/>
<polygon points="73.8,630.65 76.35,633.2 73.8,635.75 71.25,633.2" fill="#006000"/>
<polygon points="101.63,631.35 104.18,633.9 101.63,636.45 99.08,633.9" fill="#006000"/>
<polygon points="129.46,631.75 132.01,634.3 129.46,636.85 126.91,634.3" fill="#006000"/>
<polygon points="157.29,631.05 159.84,633.6 157.29,636.15 154.74,633.6" fill="#006000"/>
<polygon points="185.12,633.45 187.67,636 185.12,638.55 182.57,636" fill="#006000"/>
<polygon points="212.95,634.85 215.5,637.4 212.95,639.95 210.4,637.4" fill="#006000"/>
<polygon points="240.78,636.45 243.33,639 240.78,641.55 238.23,639" fill="#006000"/>
<polygon points="268.61,639.45 271.16,642 268.61,644.55 266.06,642" fill="#006000"/>
<polygon points="73.8,627.88 76.72,633.57 70.88,633.57" fill="#000080"/>
<polygon points="101.63,631.19 104.55,636.87 98.71,636.87" fill="#000080"/>
<polygon points="129.46,633.29 132.37,638.97 126.54,638.97" fill="#000080"/>
<polygon points="157.29,635.59 160.2,641.27 154.38,641.27" fill="#000080"/>
<polygon points="185.12,637.69 188.03,643.37 182.21,643.37" fill="#000080"/>
<polygon points="212.95,639.59 215.86,645.27 210.03,645.27" fill="#000080"/>
<polygon points="240.78,640.79 243.69,646.47 237.86,646.47" fill="#000080"/>
<polygon points="268.61,641.49 271.53,647.17 265.69,647.17" fill="#000080"/>
<rect x="71.1" y="527.2" width="5.4" height="5.4" fill="#91601f"/>
<rect x="98.93" y="546.8" width="5.4" height="5.4" fill="#91601f"/>
<rect x="126.76" y="547.3" width="5.4" height="5.4" fill="#91601f"/>
<rect x="154.59" y="569" width="5.4" height="5.4" fill="#91601f"/>
<rect x="182.42" y="599.1" width="5.4" height="5.4" fill="#91601f"/>
<rect x="210.25" y="622.3" width="5.4" height="5.4" fill="#91601f"/>
<rect x="238.08" y="634.2" width="5.4" height="5.4" fill="#91601f"/>
<rect x="265.91" y="639.6" width="5.4" height="5.4" fill="#91601f"/>
<circle cx="73.8" cy="550" r="2.75" fill="#0000ff"/>
<circle cx="101.63" cy="559.1" r="2.75" fill="#0000ff"/>
<circle cx="129.46" cy="566.6" r="2.75" fill="#0000ff"/>
<circle cx="157.29" cy="580.3" r="2.75" fill="#0000ff"/>
<circle cx="185.12" cy="602.1" r="2.75" fill="#0000ff"/>
<circle cx="212.95" cy="619.6" r="2.75" fill="#0000ff"/>
<circle cx="240.78" cy="631.5" r="2.75" fill="#0000ff"/>
<circle cx="268.61" cy="638.3" r="2.75" fill="#0000ff"/>
<text transform="translate(51.1,585.1) rotate(-90)" text-anchor="middle" font-family='"Liberation Sans", sans-serif' font-size="9.1" font-weight="bold">OD units</text>
<text x="190" y="676.4" text-anchor="middle" font-family='"Liberation Sans", sans-serif' font-size="9.1" font-weight="bold" textLength="135.8" lengthAdjust="spacingAndGlyphs">Antibody MJFR 14-6-4-2 dilution</text>
<line x1="320.1" y1="526.2" x2="333.9" y2="526.2" stroke="#0000ff" stroke-width="0.8"/>
<circle cx="327" cy="526.2" r="2.75" fill="#0000ff"/>
<text x="341.4" y="528.8" font-family='"Liberation Sans", sans-serif' font-size="7.15" fill="#111">AP-19 (127-140)</text>
<line x1="320.1" y1="539.1" x2="333.9" y2="539.1" stroke="#91601f" stroke-width="0.8"/>
<rect x="324.3" y="536.4" width="5.4" height="5.4" fill="#91601f"/>
<text x="341.4" y="541.7" font-family='"Liberation Sans", sans-serif' font-size="7.15" fill="#111">AP-19f (137-140)</text>
<line x1="320.1" y1="552.5" x2="333.9" y2="552.5" stroke="#000080" stroke-width="0.8"/>
<polygon points="327,549.59 329.92,555.27 324.08,555.27" fill="#000080"/>
<text x="341.4" y="555.1" font-family='"Liberation Sans", sans-serif' font-size="7.15" fill="#111">AP-19g (134-139)</text>
<line x1="320.1" y1="565.7" x2="333.9" y2="565.7" stroke="#006000" stroke-width="0.8"/>
<polygon points="327,563.15 329.55,565.7 327,568.25 324.45,565.7" fill="#006000"/>
<text x="341.4" y="568.3" font-family='"Liberation Sans", sans-serif' font-size="7.15" fill="#111">AP-19j (138-140)</text>
<line x1="320.1" y1="579.5" x2="333.9" y2="579.5" stroke="#f9bd85" stroke-width="0.8"/>
<polygon points="327,582.25 329.75,576.97 324.25,576.97" fill="#f9bd85"/>
<text x="341.4" y="582.1" font-family='"Liberation Sans", sans-serif' font-size="7.15" fill="#111">AP-19k (137-140+G)</text>
</g>
<g>
<rect x="449.9" y="556.7" width="16.3" height="98.6" fill="#0000ff"/>
<rect x="474.1" y="536.6" width="16.2" height="118.7" fill="#91601f"/>
<rect x="498.2" y="636.8" width="16.5" height="18.5" fill="#000080"/>
<rect x="522.4" y="640.3" width="16.5" height="15" fill="#006000"/>
<rect x="546.8" y="650.9" width="16.3" height="4.4" fill="#f9bd85"/>
<path d="M441.7 525.7 V655.3 H572.2" fill="none" stroke="#000" stroke-width="1.4"/>
<line x1="436.3" y1="655.3" x2="441.7" y2="655.3" stroke="#000" stroke-width="1.2"/>
<text x="434.8" y="657.89" text-anchor="end" font-family='"Liberation Sans", sans-serif' font-size="7.4" font-weight="bold">0.0</text>
<line x1="436.3" y1="612.3" x2="441.7" y2="612.3" stroke="#000" stroke-width="1.2"/>
<text x="434.8" y="614.89" text-anchor="end" font-family='"Liberation Sans", sans-serif' font-size="7.4" font-weight="bold">0.5</text>
<line x1="436.3" y1="569.3" x2="441.7" y2="569.3" stroke="#000" stroke-width="1.2"/>
<text x="434.8" y="571.89" text-anchor="end" font-family='"Liberation Sans", sans-serif' font-size="7.4" font-weight="bold">1.0</text>
<line x1="436.3" y1="526.3" x2="441.7" y2="526.3" stroke="#000" stroke-width="1.2"/>
<text x="434.8" y="528.89" text-anchor="end" font-family='"Liberation Sans", sans-serif' font-size="7.4" font-weight="bold">1.5</text>
<line x1="458.05" y1="655.3" x2="458.05" y2="660.6" stroke="#000" stroke-width="1.2"/>
<text transform="translate(459.85,666.9) rotate(-45)" text-anchor="end" font-family='"Liberation Sans", sans-serif' font-size="7.2" font-weight="bold">AP-19</text>
<line x1="482.2" y1="655.3" x2="482.2" y2="660.6" stroke="#000" stroke-width="1.2"/>
<text transform="translate(484,666.9) rotate(-45)" text-anchor="end" font-family='"Liberation Sans", sans-serif' font-size="7.2" font-weight="bold">AP-19f</text>
<line x1="506.45" y1="655.3" x2="506.45" y2="660.6" stroke="#000" stroke-width="1.2"/>
<text transform="translate(508.25,666.9) rotate(-45)" text-anchor="end" font-family='"Liberation Sans", sans-serif' font-size="7.2" font-weight="bold">AP-19g</text>
<line x1="530.65" y1="655.3" x2="530.65" y2="660.6" stroke="#000" stroke-width="1.2"/>
<text transform="translate(532.45,666.9) rotate(-45)" text-anchor="end" font-family='"Liberation Sans", sans-serif' font-size="7.2" font-weight="bold">AP-19j</text>
<line x1="554.95" y1="655.3" x2="554.95" y2="660.6" stroke="#000" stroke-width="1.2"/>
<text transform="translate(556.75,666.9) rotate(-45)" text-anchor="end" font-family='"Liberation Sans", sans-serif' font-size="7.2" font-weight="bold">AP-19k</text>
<text x="435.9" y="511.9" font-family='"Liberation Sans", sans-serif' font-size="8.9" font-weight="bold" textLength="155.2" lengthAdjust="spacingAndGlyphs">Antibody MJFR 14-6-4-2 dilution: 10<tspan dy="-3.74" font-size="6.94">3</tspan></text>
</g>
</svg>
</body>
</html>
